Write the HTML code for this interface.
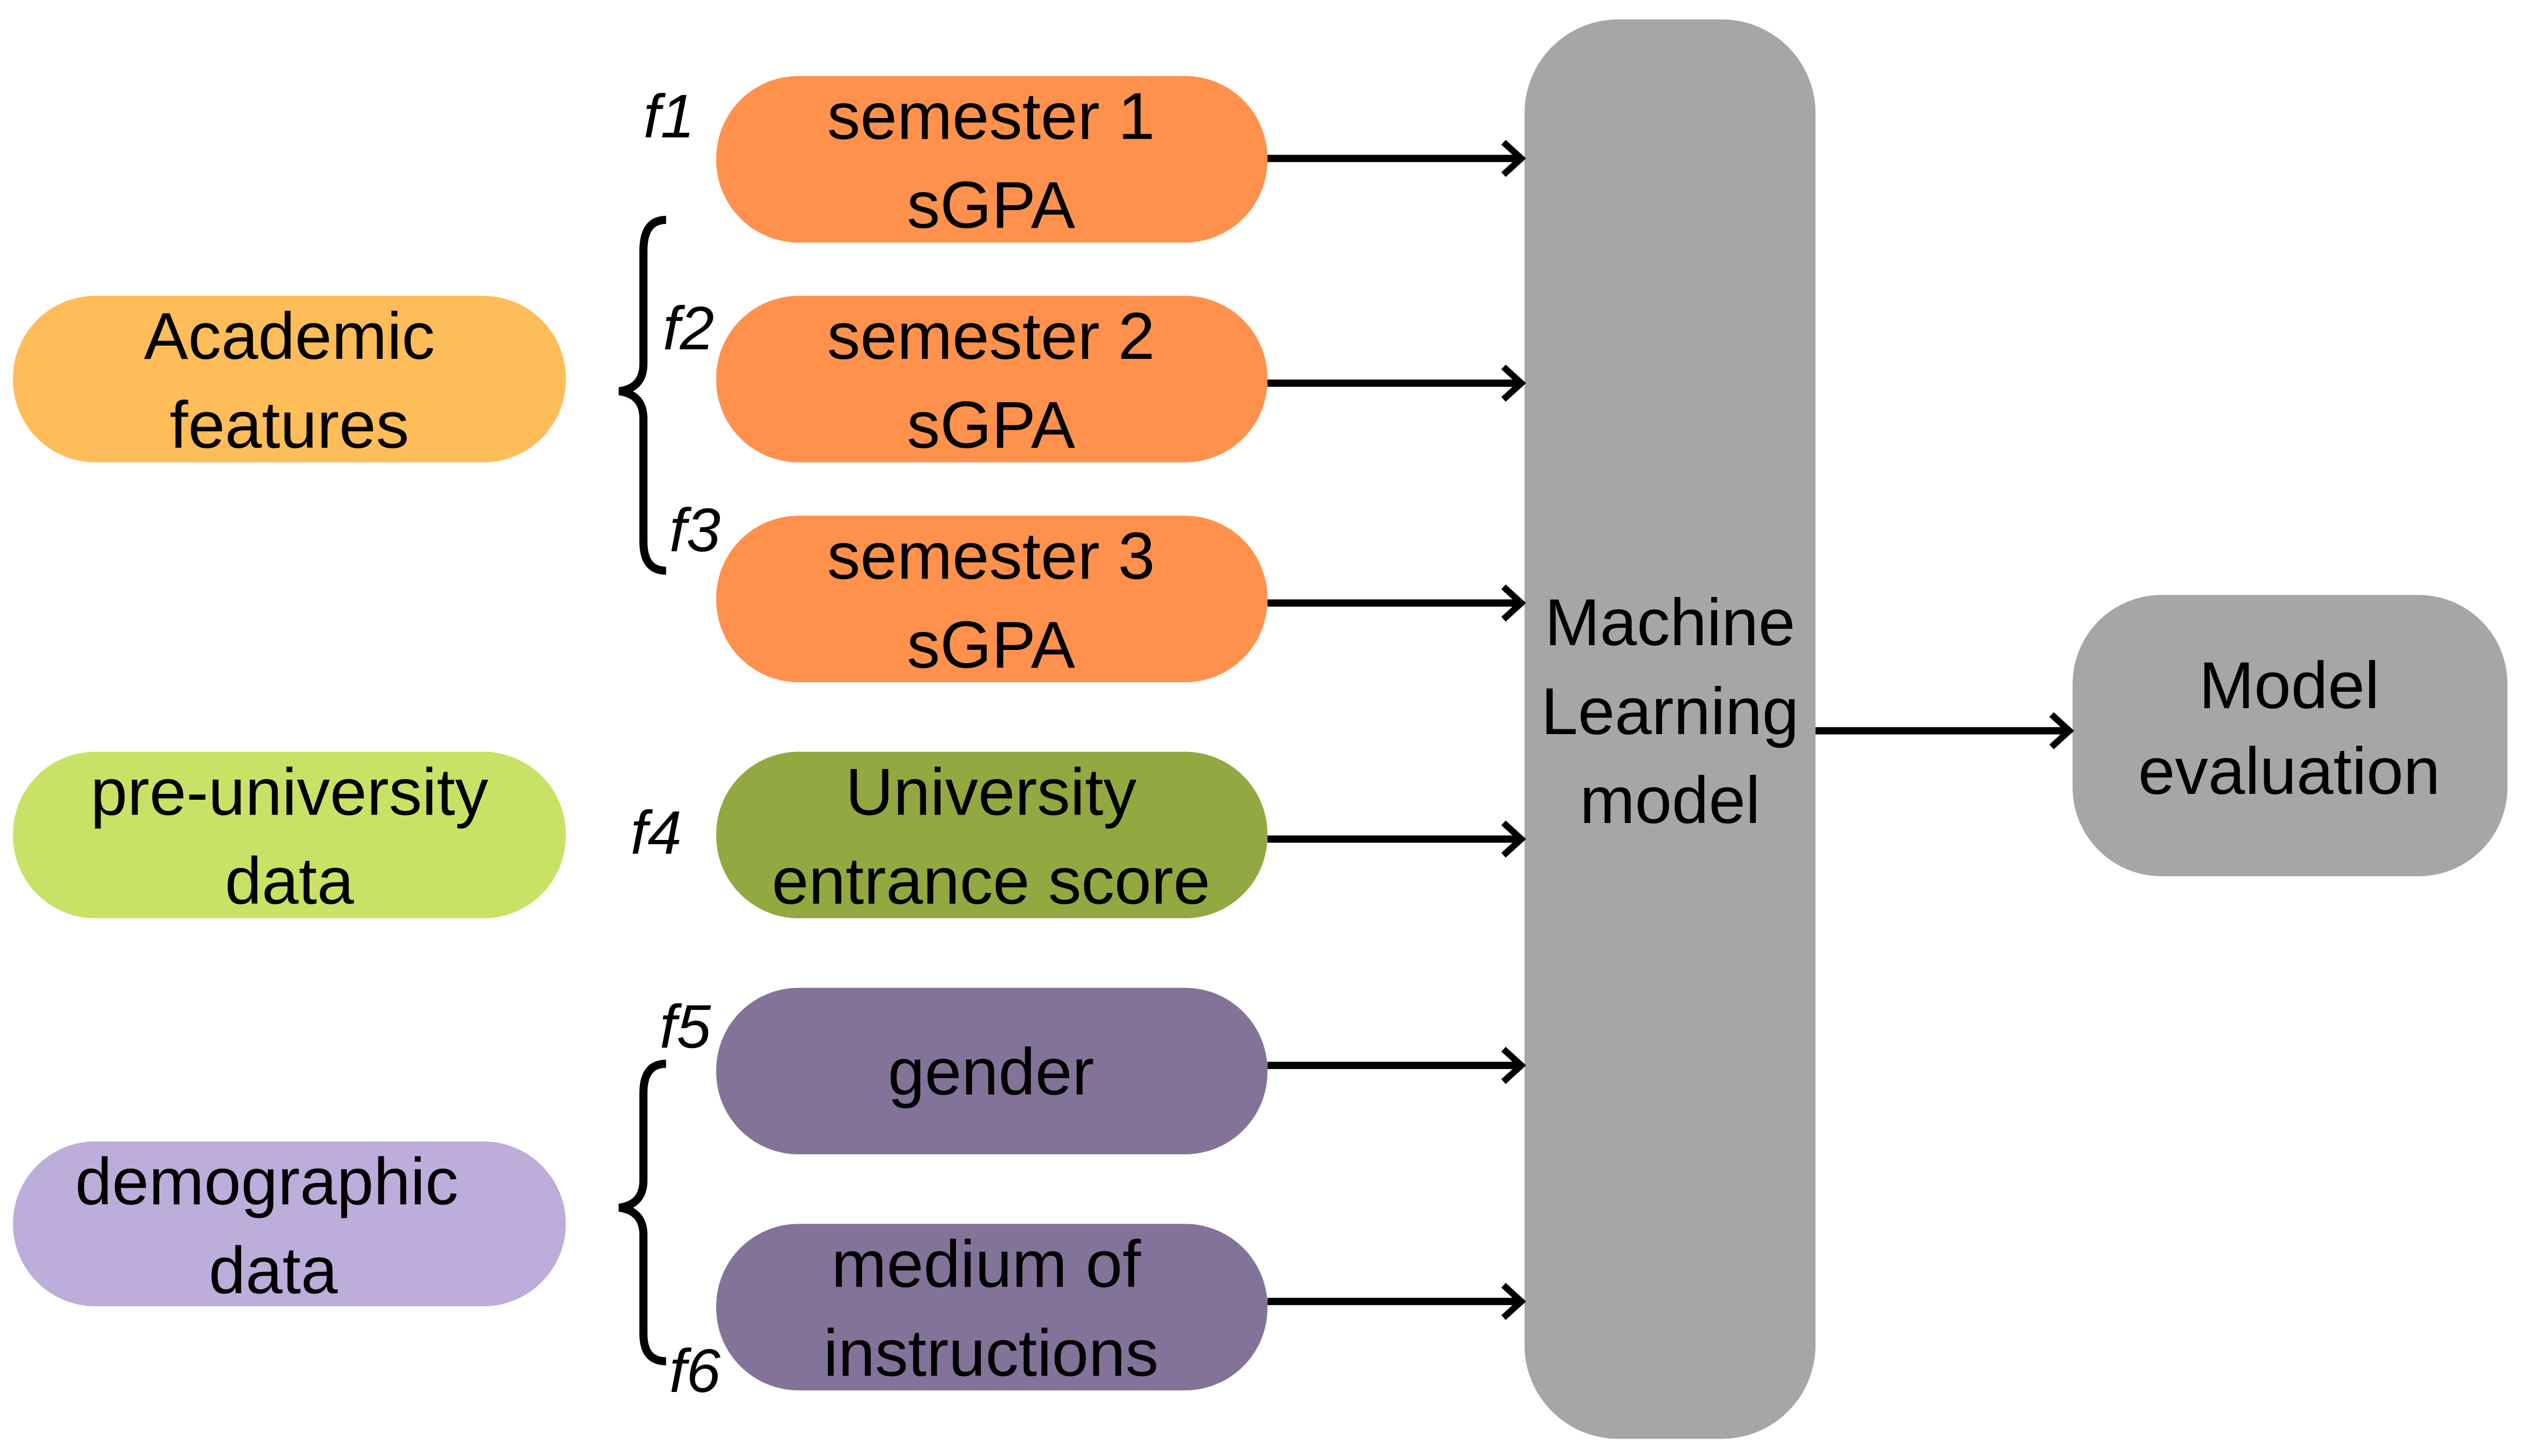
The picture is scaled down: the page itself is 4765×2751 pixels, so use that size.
<!DOCTYPE html>
<html><head><meta charset="utf-8"><style>
html,body{margin:0;padding:0;background:#fff;}
svg{display:block}
text{font-family:"Liberation Sans",sans-serif;fill:#000;}
</style></head><body>
<svg width="4765" height="2751" viewBox="0 0 1560 900.6" preserveAspectRatio="none" xmlns="http://www.w3.org/2000/svg">
<defs><marker id="ah" markerWidth="20" markerHeight="24" refX="14" refY="12" orient="auto" markerUnits="userSpaceOnUse">
<path d="M3,2 L14,12 L3,22" fill="none" stroke="#000" stroke-width="4"/></marker></defs>
<rect x="8" y="183" width="342" height="103" rx="51" fill="#FFBD59"/>
<rect x="8" y="465" width="342" height="103" rx="51" fill="#C9E265"/>
<rect x="8" y="706" width="342" height="102" rx="51" fill="#BDADDB"/>
<rect x="443" y="47" width="341" height="103" rx="51" fill="#FF914D"/>
<rect x="443" y="183" width="341" height="103" rx="51" fill="#FF914D"/>
<rect x="443" y="319" width="341" height="103" rx="51" fill="#FF914D"/>
<rect x="443" y="465" width="341" height="103" rx="51" fill="#93A840"/>
<rect x="443" y="611" width="341" height="103" rx="51" fill="#837399"/>
<rect x="443" y="757" width="341" height="103" rx="51" fill="#837399"/>
<rect x="943" y="12" width="180" height="878" rx="58" fill="#A6A6A6"/>
<rect x="1282" y="368" width="269" height="174" rx="55" fill="#A6A6A6"/>
<g stroke="#000" stroke-width="4.5" marker-end="url(#ah)">
<line x1="784" y1="98" x2="941" y2="98"/>
<line x1="784" y1="237" x2="941" y2="237"/>
<line x1="784" y1="373" x2="941" y2="373"/>
<line x1="784" y1="519" x2="941" y2="519"/>
<line x1="784" y1="659" x2="941" y2="659"/>
<line x1="784" y1="805" x2="941" y2="805"/>
<line x1="1123" y1="452" x2="1280" y2="452"/>
</g>
<g fill="none" stroke="#000" stroke-width="5">
<path d="M412,136 Q398,136 398,155 L398,225 Q398,240 383,242 Q398,244 398,259 L398,335 Q398,353 412,353"/>
<path d="M412,658 Q398,658 398,676 L398,730 Q398,745 383,747 Q398,749 398,764 L398,825 Q398,842 412,842"/>
</g>
<g font-size="41" text-anchor="middle">
<text x="179" y="222">Academic</text><text x="179" y="277">features</text>
<text x="179" y="504">pre-university</text><text x="179" y="559">data</text>
<text x="165" y="745">demographic</text><text x="169" y="800">data</text>
<text x="613" y="86">semester 1</text><text x="613" y="141">sGPA</text>
<text x="613" y="222">semester 2</text><text x="613" y="277">sGPA</text>
<text x="613" y="358">semester 3</text><text x="613" y="413">sGPA</text>
<text x="613" y="504">University</text><text x="613" y="559">entrance score</text>
<text x="613" y="677">gender</text>
<text x="610" y="796">medium of</text><text x="613" y="851">instructions</text>
<text x="1033" y="399">Machine</text><text x="1033" y="454">Learning</text><text x="1033" y="509">model</text>
<text x="1416" y="438">Model</text><text x="1416" y="491">evaluation</text>
</g>
<g font-size="38" font-style="italic">
<text x="398" y="85">f1</text>
<text x="410" y="216">f2</text>
<text x="414" y="341">f3</text>
<text x="390" y="528">f4</text>
<text x="408" y="648">f5</text>
<text x="414" y="861">f6</text>
</g>
</svg>
</body></html>
